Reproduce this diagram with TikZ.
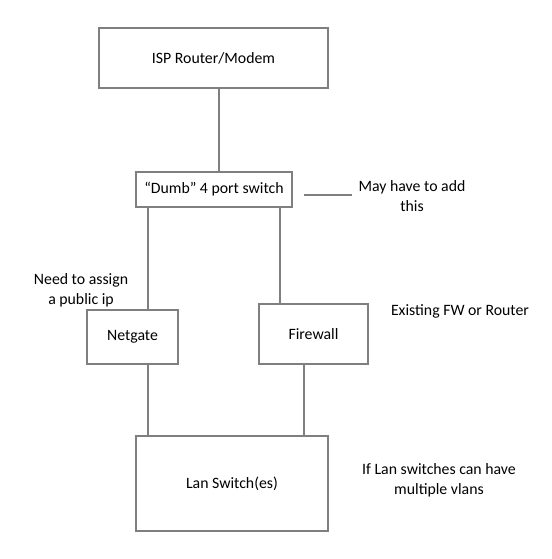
\documentclass[tikz,border=0pt]{standalone}
\usepackage{fontspec}
\setmainfont{Carlito}
\begin{document}
\begin{tikzpicture}[x=1pt,y=-1pt,
  box/.style={draw=linegray,line width=1.4pt,fill=white,inner sep=0pt,font=\fontsize{15.8}{20}\selectfont},
  conn/.style={draw=linegray,line width=1.4pt},
  note/.style={align=center,inner sep=0pt,font=\fontsize{15.8}{20}\selectfont}]
\definecolor{linegray}{HTML}{7F7F7F}
\useasboundingbox (0,0) rectangle (551,559);
\node[box,minimum width=229pt,minimum height=60pt] (isp) at (213.5,58) {ISP Router/Modem};
\node[box,minimum width=156pt,minimum height=35pt] (dumb) at (214,189.5) {“Dumb” 4 port switch};
\node[box,minimum width=91pt,minimum height=54pt] (netgate) at (132.5,337) {Netgate};
\node[box,minimum width=109pt,minimum height=60pt] (fw) at (313.5,334) {Firewall};
\node[box,minimum width=192pt,minimum height=95pt] (lan) at (232,483.5) {Lan Switch(es)};
\coordinate (c1) at (219,0);
\coordinate (c2) at (148,0);
\coordinate (c3) at (280,0);
\coordinate (c4) at (304,0);
\draw[conn] (isp.south -| c1) -- (dumb.north -| c1);
\draw[conn] (dumb.south -| c2) -- (netgate.north -| c2);
\draw[conn] (dumb.south -| c3) -- (fw.north -| c3);
\draw[conn] (netgate.south -| c2) -- (lan.north -| c2);
\draw[conn] (fw.south -| c4) -- (lan.north -| c4);
\coordinate (m1) at (304,195);
\coordinate (m2) at (352,195);
\draw[conn] (m1) -- (m2);
\node[note] (may) at (412,196) {May have to add\\this};
\node[note] (need) at (81,290) {Need to assign\\a public ip};
\node[note] (exist) at (460,311) {Existing FW or Router};
\node[note] (iflan) at (439,480) {If Lan switches can have\\multiple vlans};
\end{tikzpicture}
\end{document}
